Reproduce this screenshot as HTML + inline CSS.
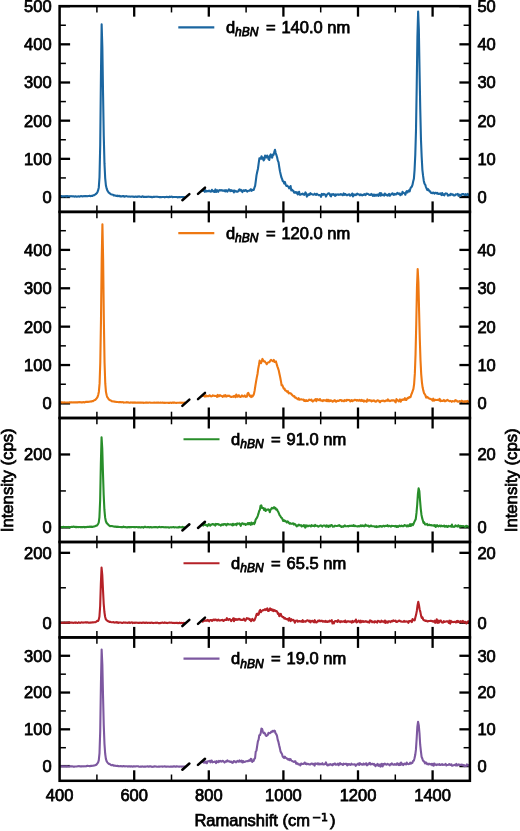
<!DOCTYPE html>
<html><head><meta charset="utf-8"><style>html,body{margin:0;padding:0;background:#fff;width:520px;height:831px;overflow:hidden}</style></head><body>
<svg width="520" height="831" viewBox="0 0 520 831" style="display:block">
<rect width="520" height="831" fill="#fff"/>
<clipPath id="c0"><rect x="59.6" y="6.15" width="410.30" height="205.75"/></clipPath>
<g stroke="#000"><line x1="96.90" y1="6.15" x2="96.90" y2="12.45" stroke-width="1.5"/><line x1="96.90" y1="211.90" x2="96.90" y2="205.60" stroke-width="1.5"/><line x1="134.20" y1="6.15" x2="134.20" y2="16.65" stroke-width="2.3"/><line x1="134.20" y1="211.90" x2="134.20" y2="201.40" stroke-width="2.3"/><line x1="171.50" y1="6.15" x2="171.50" y2="12.45" stroke-width="1.5"/><line x1="171.50" y1="211.90" x2="171.50" y2="205.60" stroke-width="1.5"/><line x1="208.80" y1="6.15" x2="208.80" y2="16.65" stroke-width="2.3"/><line x1="208.80" y1="211.90" x2="208.80" y2="201.40" stroke-width="2.3"/><line x1="246.10" y1="6.15" x2="246.10" y2="12.45" stroke-width="1.5"/><line x1="246.10" y1="211.90" x2="246.10" y2="205.60" stroke-width="1.5"/><line x1="283.40" y1="6.15" x2="283.40" y2="16.65" stroke-width="2.3"/><line x1="283.40" y1="211.90" x2="283.40" y2="201.40" stroke-width="2.3"/><line x1="320.70" y1="6.15" x2="320.70" y2="12.45" stroke-width="1.5"/><line x1="320.70" y1="211.90" x2="320.70" y2="205.60" stroke-width="1.5"/><line x1="358.00" y1="6.15" x2="358.00" y2="16.65" stroke-width="2.3"/><line x1="358.00" y1="211.90" x2="358.00" y2="201.40" stroke-width="2.3"/><line x1="395.30" y1="6.15" x2="395.30" y2="12.45" stroke-width="1.5"/><line x1="395.30" y1="211.90" x2="395.30" y2="205.60" stroke-width="1.5"/><line x1="432.60" y1="6.15" x2="432.60" y2="16.65" stroke-width="2.3"/><line x1="432.60" y1="211.90" x2="432.60" y2="201.40" stroke-width="2.3"/><line x1="59.60" y1="197.01" x2="70.10" y2="197.01" stroke-width="2.3"/><line x1="469.90" y1="197.01" x2="459.40" y2="197.01" stroke-width="2.3"/><line x1="59.60" y1="158.84" x2="70.10" y2="158.84" stroke-width="2.3"/><line x1="469.90" y1="158.84" x2="459.40" y2="158.84" stroke-width="2.3"/><line x1="59.60" y1="120.67" x2="70.10" y2="120.67" stroke-width="2.3"/><line x1="469.90" y1="120.67" x2="459.40" y2="120.67" stroke-width="2.3"/><line x1="59.60" y1="82.50" x2="70.10" y2="82.50" stroke-width="2.3"/><line x1="469.90" y1="82.50" x2="459.40" y2="82.50" stroke-width="2.3"/><line x1="59.60" y1="44.32" x2="70.10" y2="44.32" stroke-width="2.3"/><line x1="469.90" y1="44.32" x2="459.40" y2="44.32" stroke-width="2.3"/><line x1="59.60" y1="6.15" x2="70.10" y2="6.15" stroke-width="2.3"/><line x1="469.90" y1="6.15" x2="459.40" y2="6.15" stroke-width="2.3"/><line x1="59.60" y1="177.93" x2="65.90" y2="177.93" stroke-width="1.5"/><line x1="469.90" y1="177.93" x2="463.60" y2="177.93" stroke-width="1.5"/><line x1="59.60" y1="139.75" x2="65.90" y2="139.75" stroke-width="1.5"/><line x1="469.90" y1="139.75" x2="463.60" y2="139.75" stroke-width="1.5"/><line x1="59.60" y1="101.58" x2="65.90" y2="101.58" stroke-width="1.5"/><line x1="469.90" y1="101.58" x2="463.60" y2="101.58" stroke-width="1.5"/><line x1="59.60" y1="63.41" x2="65.90" y2="63.41" stroke-width="1.5"/><line x1="469.90" y1="63.41" x2="463.60" y2="63.41" stroke-width="1.5"/><line x1="59.60" y1="25.24" x2="65.90" y2="25.24" stroke-width="1.5"/><line x1="469.90" y1="25.24" x2="463.60" y2="25.24" stroke-width="1.5"/></g>
<polyline clip-path="url(#c0)" points="59.82,196.27 60.53,196.02 61.24,196.05 61.95,196.39 62.66,196.35 63.37,196.40 64.08,196.19 64.78,196.31 65.49,196.16 66.20,196.66 66.91,196.01 67.62,196.33 68.33,196.18 69.04,196.34 69.75,196.39 70.45,196.23 71.16,196.16 71.87,196.36 72.58,196.35 73.29,196.19 74.00,196.49 74.71,196.61 75.42,196.24 76.12,196.44 76.83,196.68 77.54,196.47 78.25,196.40 78.96,196.53 79.67,196.58 80.38,196.28 81.08,196.11 81.79,196.32 82.50,196.40 83.21,196.18 83.92,196.10 84.63,196.28 85.34,196.10 86.05,195.98 86.75,196.19 87.46,196.27 88.17,196.01 88.88,195.98 89.59,195.77 90.30,196.16 91.01,195.96 91.72,195.89 92.42,195.94 93.13,195.42 93.84,195.14 94.55,195.12 95.26,194.36 95.97,193.97 96.68,193.29 97.38,192.25 98.09,190.40 98.80,187.41 99.51,177.04 100.22,144.66 100.93,76.50 101.64,24.39 102.35,47.24 103.05,93.50 103.76,135.83 104.47,163.42 105.18,178.07 105.89,185.26 106.60,188.36 107.31,190.40 108.02,191.55 108.72,192.65 109.43,193.03 110.14,193.66 110.85,194.23 111.56,194.41 112.27,194.57 112.98,194.69 113.69,195.53 114.39,195.22 115.10,195.44 115.81,195.66 116.52,195.94 117.23,195.60 117.94,196.16 118.65,195.88 119.35,195.80 120.06,196.41 120.77,196.22 121.48,196.46 122.19,196.20 122.90,196.00 123.61,195.93 124.32,196.69 125.02,196.49 125.73,196.28 126.44,196.14 127.15,196.38 127.86,196.63 128.57,196.45 129.28,196.53 129.99,196.58 130.69,196.70 131.40,196.51 132.11,196.54 132.82,196.63 133.53,196.67 134.24,196.89 134.95,196.75 135.65,196.44 136.36,196.72 137.07,196.97 137.78,196.45 138.49,196.61 139.20,196.32 139.91,196.72 140.62,196.83 141.32,197.03 142.03,196.51 142.74,196.28 143.45,196.94 144.16,196.92 144.87,196.69 145.58,196.97 146.29,196.87 146.99,196.89 147.70,196.80 148.41,196.63 149.12,196.85 149.83,196.68 150.54,196.95 151.25,196.81 151.95,197.29 152.66,197.17 153.37,196.74 154.08,197.02 154.79,196.80 155.50,196.81 156.21,196.67 156.92,196.78 157.62,196.74 158.33,196.97 159.04,197.08 159.75,197.10 160.46,197.06 161.17,197.19 161.88,197.08 162.59,197.00 163.29,196.94 164.00,197.06 164.71,197.37 165.42,197.02 166.13,196.97 166.84,196.81 167.55,196.92 168.25,197.15 168.96,197.18 169.67,196.66 170.38,196.91 171.09,196.71 171.80,196.66 172.51,197.22 173.22,197.00 173.92,196.99 174.63,196.98 175.34,196.99 176.05,197.06 176.76,197.07 177.47,197.39 178.18,197.14 178.89,197.26 179.59,197.10 180.30,197.22 181.01,197.02 181.72,196.98 182.43,197.09 183.14,197.09 183.85,197.14 184.55,197.25 185.26,197.20" fill="none" stroke="#1b66a0" stroke-width="2.1" stroke-linejoin="round" stroke-linecap="butt"/>
<polyline clip-path="url(#c0)" points="201.97,191.27 202.68,190.59 203.39,190.87 204.10,190.43 204.81,191.89 205.52,190.19 206.23,191.45 206.94,191.42 207.64,191.00 208.35,191.28 209.06,190.62 209.77,191.28 210.48,191.65 211.19,191.47 211.90,189.82 212.60,190.78 213.31,191.70 214.02,190.80 214.73,191.99 215.44,189.43 216.15,191.95 216.86,190.42 217.57,190.36 218.27,191.88 218.98,190.54 219.69,190.00 220.40,190.40 221.11,190.55 221.82,190.02 222.53,190.62 223.24,190.48 223.94,190.83 224.65,190.24 225.36,191.44 226.07,190.11 226.78,191.10 227.49,191.54 228.20,190.42 228.90,189.40 229.61,189.95 230.32,191.08 231.03,190.15 231.74,191.02 232.45,190.76 233.16,190.59 233.87,192.43 234.57,190.51 235.28,191.44 235.99,191.18 236.70,191.77 237.41,191.79 238.12,191.35 238.83,189.99 239.54,189.34 240.24,190.63 240.95,189.77 241.66,190.80 242.37,192.06 243.08,190.47 243.79,190.24 244.50,190.91 245.20,190.34 245.91,190.13 246.62,191.22 247.33,191.69 248.04,190.72 248.75,190.71 249.46,190.81 250.17,189.78 250.87,189.21 251.58,190.85 252.29,189.99 253.00,189.80 253.71,189.94 254.42,187.70 255.13,185.78 255.84,180.54 256.54,175.11 257.25,171.81 257.96,168.76 258.67,163.32 259.38,158.35 260.09,158.19 260.80,158.75 261.50,156.37 262.21,158.78 262.92,157.70 263.63,160.48 264.34,159.49 265.05,155.58 265.76,156.18 266.47,157.48 267.17,155.57 267.88,156.50 268.59,159.41 269.30,159.88 270.01,155.79 270.72,154.34 271.43,156.59 272.14,157.72 272.84,154.68 273.55,154.93 274.26,152.14 274.97,149.70 275.68,153.09 276.39,154.97 277.10,157.30 277.80,160.60 278.51,162.15 279.22,166.93 279.93,171.14 280.64,174.25 281.35,177.30 282.06,178.89 282.77,181.17 283.47,181.21 284.18,183.55 284.89,182.00 285.60,184.31 286.31,185.89 287.02,185.50 287.73,186.32 288.44,186.61 289.14,188.33 289.85,187.82 290.56,186.02 291.27,190.37 291.98,189.62 292.69,190.62 293.40,190.74 294.11,192.77 294.81,192.77 295.52,192.04 296.23,192.92 296.94,192.15 297.65,194.44 298.36,193.84 299.07,191.79 299.77,194.64 300.48,194.79 301.19,194.17 301.90,194.21 302.61,193.58 303.32,194.16 304.03,194.88 304.74,194.18 305.44,192.37 306.15,193.46 306.86,196.59 307.57,194.62 308.28,195.22 308.99,194.12 309.70,194.77 310.41,193.20 311.11,193.98 311.82,194.01 312.53,194.55 313.24,194.73 313.95,194.44 314.66,193.71 315.37,194.29 316.07,194.97 316.78,193.73 317.49,194.56 318.20,194.76 318.91,195.31 319.62,195.14 320.33,195.19 321.04,196.84 321.74,193.93 322.45,194.28 323.16,194.88 323.87,193.92 324.58,194.38 325.29,194.43 326.00,196.61 326.71,194.90 327.41,194.31 328.12,193.49 328.83,193.32 329.54,193.63 330.25,195.61 330.96,196.40 331.67,194.29 332.37,194.71 333.08,193.99 333.79,194.82 334.50,194.56 335.21,195.88 335.92,194.39 336.63,195.07 337.34,194.47 338.04,194.38 338.75,194.82 339.46,194.49 340.17,194.75 340.88,194.16 341.59,194.35 342.30,195.16 343.01,195.19 343.71,193.41 344.42,194.82 345.13,193.98 345.84,194.44 346.55,195.17 347.26,195.31 347.97,194.65 348.67,194.55 349.38,194.27 350.09,195.71 350.80,195.20 351.51,194.81 352.22,193.52 352.93,196.54 353.64,194.41 354.34,195.15 355.05,194.41 355.76,195.12 356.47,194.46 357.18,193.55 357.89,194.47 358.60,194.41 359.31,194.45 360.01,195.31 360.72,194.32 361.43,194.89 362.14,195.35 362.85,194.76 363.56,194.91 364.27,194.16 364.98,194.76 365.68,195.13 366.39,193.61 367.10,193.97 367.81,193.75 368.52,194.26 369.23,194.80 369.94,195.03 370.64,194.92 371.35,193.98 372.06,194.62 372.77,195.83 373.48,194.73 374.19,195.78 374.90,194.56 375.61,195.60 376.31,195.65 377.02,194.58 377.73,194.73 378.44,195.93 379.15,194.09 379.86,193.00 380.57,195.77 381.28,193.25 381.98,195.15 382.69,194.99 383.40,194.74 384.11,195.70 384.82,193.59 385.53,194.20 386.24,195.13 386.94,194.76 387.65,195.69 388.36,194.78 389.07,193.78 389.78,195.79 390.49,194.79 391.20,194.32 391.91,193.61 392.61,193.35 393.32,194.70 394.03,194.89 394.74,193.94 395.45,194.53 396.16,194.44 396.87,193.34 397.58,192.82 398.28,193.85 398.99,194.13 399.70,193.48 400.41,195.28 401.12,193.76 401.83,194.45 402.54,191.70 403.24,192.84 403.95,193.12 404.66,193.20 405.37,194.76 406.08,192.05 406.79,191.05 407.50,192.49 408.21,190.98 408.91,190.42 409.62,191.49 410.33,188.75 411.04,187.33 411.75,186.74 412.46,184.98 413.17,181.48 413.88,178.81 414.58,169.82 415.29,154.61 416.00,130.18 416.71,86.87 417.42,37.26 418.13,11.43 418.84,29.09 419.54,70.44 420.25,108.76 420.96,139.23 421.67,156.74 422.38,169.78 423.09,175.90 423.80,180.96 424.51,183.64 425.21,184.56 425.92,186.86 426.63,188.54 427.34,190.15 428.05,189.08 428.76,190.03 429.47,191.36 430.18,191.36 430.88,192.70 431.59,193.00 432.30,193.13 433.01,192.46 433.72,192.70 434.43,193.67 435.14,192.70 435.85,192.80 436.55,193.39 437.26,192.84 437.97,193.95 438.68,193.90 439.39,193.54 440.10,194.00 440.81,193.43 441.51,195.06 442.22,193.07 442.93,194.80 443.64,194.38 444.35,195.35 445.06,193.88 445.77,193.40 446.48,193.59 447.18,193.80 447.89,195.66 448.60,195.10 449.31,194.88 450.02,195.26 450.73,193.72 451.44,194.46 452.15,194.64 452.85,194.26 453.56,195.38 454.27,195.37 454.98,195.36 455.69,194.33 456.40,194.46 457.11,194.29 457.81,193.92 458.52,195.80 459.23,195.20 459.94,194.67 460.65,195.83 461.36,195.21 462.07,194.04 462.78,193.99 463.48,194.02 464.19,194.81 464.90,195.02 465.61,194.04 466.32,195.16 467.03,194.62 467.74,193.88 468.45,195.18 469.15,195.37 469.86,194.92" fill="none" stroke="#1b66a0" stroke-width="2.1" stroke-linejoin="round" stroke-linecap="butt"/>
<line x1="182.36" y1="200.27" x2="189.36" y2="194.07" stroke="#000" stroke-width="2.5" stroke-linecap="round"/>
<line x1="198.00" y1="193.89" x2="205.00" y2="187.69" stroke="#000" stroke-width="2.5" stroke-linecap="round"/>
<rect x="59.6" y="6.15" width="410.30" height="205.75" fill="none" stroke="#000" stroke-width="2.5"/>
<g font-family='"Liberation Sans", Arial, Helvetica, sans-serif' font-size="16.5" fill="#000" stroke="#000" stroke-width="0.75"><text x="51.60" y="202.95" text-anchor="end">0</text><text x="477.40" y="202.95">0</text><text x="51.60" y="164.78" text-anchor="end">100</text><text x="477.40" y="164.78">10</text><text x="51.60" y="126.61" text-anchor="end">200</text><text x="477.40" y="126.61">20</text><text x="51.60" y="88.44" text-anchor="end">300</text><text x="477.40" y="88.44">30</text><text x="51.60" y="50.26" text-anchor="end">400</text><text x="477.40" y="50.26">40</text><text x="51.60" y="12.09" text-anchor="end">500</text><text x="477.40" y="12.09">50</text></g>
<line x1="178.3" y1="27.35" x2="214.3" y2="27.35" stroke="#1b66a0" stroke-width="2.1"/>
<text x="225.90" y="32.85" font-family='"Liberation Sans", Arial, Helvetica, sans-serif' font-size="16.5" fill="#000" stroke="#000" stroke-width="0.75">d<tspan font-style="italic" font-size="12" dy="3.6">hBN</tspan></text>
<text x="265.90" y="32.85" font-family='"Liberation Sans", Arial, Helvetica, sans-serif' font-size="16.5" fill="#000" stroke="#000" stroke-width="0.75">=</text>
<text x="281.40" y="32.85" font-family='"Liberation Sans", Arial, Helvetica, sans-serif' font-size="16.5" fill="#000" stroke="#000" stroke-width="0.75">140.0 nm</text>
<clipPath id="c1"><rect x="59.6" y="211.9" width="410.30" height="206.10"/></clipPath>
<g stroke="#000"><line x1="96.90" y1="211.90" x2="96.90" y2="218.20" stroke-width="1.5"/><line x1="96.90" y1="418.00" x2="96.90" y2="411.70" stroke-width="1.5"/><line x1="134.20" y1="211.90" x2="134.20" y2="222.40" stroke-width="2.3"/><line x1="134.20" y1="418.00" x2="134.20" y2="407.50" stroke-width="2.3"/><line x1="171.50" y1="211.90" x2="171.50" y2="218.20" stroke-width="1.5"/><line x1="171.50" y1="418.00" x2="171.50" y2="411.70" stroke-width="1.5"/><line x1="208.80" y1="211.90" x2="208.80" y2="222.40" stroke-width="2.3"/><line x1="208.80" y1="418.00" x2="208.80" y2="407.50" stroke-width="2.3"/><line x1="246.10" y1="211.90" x2="246.10" y2="218.20" stroke-width="1.5"/><line x1="246.10" y1="418.00" x2="246.10" y2="411.70" stroke-width="1.5"/><line x1="283.40" y1="211.90" x2="283.40" y2="222.40" stroke-width="2.3"/><line x1="283.40" y1="418.00" x2="283.40" y2="407.50" stroke-width="2.3"/><line x1="320.70" y1="211.90" x2="320.70" y2="218.20" stroke-width="1.5"/><line x1="320.70" y1="418.00" x2="320.70" y2="411.70" stroke-width="1.5"/><line x1="358.00" y1="211.90" x2="358.00" y2="222.40" stroke-width="2.3"/><line x1="358.00" y1="418.00" x2="358.00" y2="407.50" stroke-width="2.3"/><line x1="395.30" y1="211.90" x2="395.30" y2="218.20" stroke-width="1.5"/><line x1="395.30" y1="418.00" x2="395.30" y2="411.70" stroke-width="1.5"/><line x1="432.60" y1="211.90" x2="432.60" y2="222.40" stroke-width="2.3"/><line x1="432.60" y1="418.00" x2="432.60" y2="407.50" stroke-width="2.3"/><line x1="59.60" y1="403.42" x2="70.10" y2="403.42" stroke-width="2.3"/><line x1="469.90" y1="403.42" x2="459.40" y2="403.42" stroke-width="2.3"/><line x1="59.60" y1="365.04" x2="70.10" y2="365.04" stroke-width="2.3"/><line x1="469.90" y1="365.04" x2="459.40" y2="365.04" stroke-width="2.3"/><line x1="59.60" y1="326.66" x2="70.10" y2="326.66" stroke-width="2.3"/><line x1="469.90" y1="326.66" x2="459.40" y2="326.66" stroke-width="2.3"/><line x1="59.60" y1="288.28" x2="70.10" y2="288.28" stroke-width="2.3"/><line x1="469.90" y1="288.28" x2="459.40" y2="288.28" stroke-width="2.3"/><line x1="59.60" y1="249.90" x2="70.10" y2="249.90" stroke-width="2.3"/><line x1="469.90" y1="249.90" x2="459.40" y2="249.90" stroke-width="2.3"/><line x1="59.60" y1="384.23" x2="65.90" y2="384.23" stroke-width="1.5"/><line x1="469.90" y1="384.23" x2="463.60" y2="384.23" stroke-width="1.5"/><line x1="59.60" y1="345.85" x2="65.90" y2="345.85" stroke-width="1.5"/><line x1="469.90" y1="345.85" x2="463.60" y2="345.85" stroke-width="1.5"/><line x1="59.60" y1="307.47" x2="65.90" y2="307.47" stroke-width="1.5"/><line x1="469.90" y1="307.47" x2="463.60" y2="307.47" stroke-width="1.5"/><line x1="59.60" y1="269.09" x2="65.90" y2="269.09" stroke-width="1.5"/><line x1="469.90" y1="269.09" x2="463.60" y2="269.09" stroke-width="1.5"/><line x1="59.60" y1="230.71" x2="65.90" y2="230.71" stroke-width="1.5"/><line x1="469.90" y1="230.71" x2="463.60" y2="230.71" stroke-width="1.5"/></g>
<polyline clip-path="url(#c1)" points="59.90,402.35 60.61,402.36 61.32,402.40 62.02,402.35 62.73,402.60 63.44,402.51 64.15,402.39 64.86,402.51 65.57,402.56 66.28,402.54 66.99,402.51 67.69,402.42 68.40,402.51 69.11,402.36 69.82,402.19 70.53,402.40 71.24,402.23 71.95,402.34 72.65,402.50 73.36,402.39 74.07,402.47 74.78,402.26 75.49,402.47 76.20,402.18 76.91,402.25 77.62,402.54 78.32,402.21 79.03,402.10 79.74,402.36 80.45,402.14 81.16,402.44 81.87,402.19 82.58,402.38 83.29,402.11 83.99,402.34 84.70,402.41 85.41,402.02 86.12,401.76 86.83,402.05 87.54,401.83 88.25,401.85 88.96,401.82 89.66,401.63 90.37,401.40 91.08,401.61 91.79,401.26 92.50,401.10 93.21,401.08 93.92,400.45 94.62,400.05 95.33,399.92 96.04,398.99 96.75,398.32 97.46,397.13 98.17,395.05 98.88,391.70 99.59,383.38 100.29,362.26 101.00,319.13 101.71,258.77 102.42,224.31 103.13,259.06 103.84,319.16 104.55,362.56 105.26,383.42 105.96,391.87 106.67,395.27 107.38,397.28 108.09,398.17 108.80,399.34 109.51,399.86 110.22,400.34 110.92,400.54 111.63,401.13 112.34,401.20 113.05,401.40 113.76,401.47 114.47,401.60 115.18,401.82 115.89,401.83 116.59,401.98 117.30,401.95 118.01,402.07 118.72,402.19 119.43,402.16 120.14,402.16 120.85,401.98 121.56,402.33 122.26,402.26 122.97,402.16 123.68,402.59 124.39,402.57 125.10,402.53 125.81,402.42 126.52,402.15 127.22,402.40 127.93,402.32 128.64,402.50 129.35,402.77 130.06,402.76 130.77,402.39 131.48,402.50 132.19,402.68 132.89,402.41 133.60,402.73 134.31,402.43 135.02,402.40 135.73,402.66 136.44,402.71 137.15,402.49 137.86,402.72 138.56,402.50 139.27,402.74 139.98,402.52 140.69,402.61 141.40,402.67 142.11,402.73 142.82,402.61 143.52,402.86 144.23,402.68 144.94,402.69 145.65,402.57 146.36,402.80 147.07,402.46 147.78,402.70 148.49,402.80 149.19,402.51 149.90,402.49 150.61,402.70 151.32,402.79 152.03,402.69 152.74,402.77 153.45,402.73 154.16,402.52 154.86,402.66 155.57,402.69 156.28,402.67 156.99,402.72 157.70,402.62 158.41,402.62 159.12,402.76 159.83,402.71 160.53,402.45 161.24,402.68 161.95,402.76 162.66,402.50 163.37,402.74 164.08,402.87 164.79,402.67 165.49,402.85 166.20,402.81 166.91,402.72 167.62,402.77 168.33,402.85 169.04,402.82 169.75,402.83 170.46,402.63 171.16,402.85 171.87,402.84 172.58,402.54 173.29,402.84 174.00,402.61 174.71,402.63 175.42,402.80 176.13,402.95 176.83,402.74 177.54,402.71 178.25,402.68 178.96,402.79 179.67,402.66 180.38,402.64 181.09,402.92 181.79,402.64 182.50,402.79 183.21,402.88 183.92,402.85 184.63,402.60 185.34,402.70" fill="none" stroke="#ee7812" stroke-width="2.1" stroke-linejoin="round" stroke-linecap="butt"/>
<polyline clip-path="url(#c1)" points="201.53,396.76 202.24,395.69 202.94,395.83 203.65,395.85 204.36,396.05 205.07,396.60 205.78,395.27 206.49,396.32 207.20,396.00 207.90,396.14 208.61,396.21 209.32,395.37 210.03,395.59 210.74,396.20 211.45,396.36 212.16,396.09 212.87,395.27 213.57,395.76 214.28,395.71 214.99,396.04 215.70,396.00 216.41,395.74 217.12,396.93 217.83,394.94 218.54,396.33 219.24,396.21 219.95,395.12 220.66,395.77 221.37,395.88 222.08,396.24 222.79,396.81 223.50,395.81 224.20,395.24 224.91,396.45 225.62,395.15 226.33,396.59 227.04,396.37 227.75,395.66 228.46,395.96 229.17,395.57 229.87,396.40 230.58,396.57 231.29,397.06 232.00,396.68 232.71,396.62 233.42,396.82 234.13,395.83 234.84,396.40 235.54,397.17 236.25,394.60 236.96,396.51 237.67,396.76 238.38,395.33 239.09,395.38 239.80,396.72 240.50,396.91 241.21,396.64 241.92,395.42 242.63,396.26 243.34,396.55 244.05,396.11 244.76,395.41 245.47,396.90 246.17,396.33 246.88,396.63 247.59,393.48 248.30,392.90 249.01,394.50 249.72,396.19 250.43,395.64 251.14,397.14 251.84,395.68 252.55,396.52 253.26,395.49 253.97,393.87 254.68,390.41 255.39,385.63 256.10,381.33 256.81,377.40 257.51,374.01 258.22,368.68 258.93,365.04 259.64,360.64 260.35,361.95 261.06,363.07 261.77,361.11 262.47,358.89 263.18,360.44 263.89,361.48 264.60,361.22 265.31,362.17 266.02,362.88 266.73,364.22 267.44,363.11 268.14,362.34 268.85,362.31 269.56,362.12 270.27,360.64 270.98,359.83 271.69,360.40 272.40,360.85 273.11,361.18 273.81,359.97 274.52,362.03 275.23,361.78 275.94,361.45 276.65,363.96 277.36,366.37 278.07,368.37 278.77,370.50 279.48,374.01 280.19,377.22 280.90,380.93 281.61,385.29 282.32,385.05 283.03,386.79 283.74,388.58 284.44,388.49 285.15,390.33 285.86,390.71 286.57,390.69 287.28,391.85 287.99,391.26 288.70,393.36 289.41,392.94 290.11,393.36 290.82,393.42 291.53,394.24 292.24,395.15 292.95,395.74 293.66,396.33 294.37,396.14 295.07,397.68 295.78,397.51 296.49,398.36 297.20,398.68 297.91,399.35 298.62,398.07 299.33,399.78 300.04,399.36 300.74,399.45 301.45,399.36 302.16,399.55 302.87,399.67 303.58,399.45 304.29,400.98 305.00,400.21 305.71,401.03 306.41,400.19 307.12,401.01 307.83,400.89 308.54,400.37 309.25,399.54 309.96,400.01 310.67,400.18 311.37,399.55 312.08,400.90 312.79,401.57 313.50,400.61 314.21,400.53 314.92,399.67 315.63,399.15 316.34,401.15 317.04,398.97 317.75,399.50 318.46,399.92 319.17,400.19 319.88,399.01 320.59,400.37 321.30,400.69 322.01,400.34 322.71,401.22 323.42,400.16 324.13,400.50 324.84,400.25 325.55,400.24 326.26,401.06 326.97,399.70 327.68,401.04 328.38,399.95 329.09,401.39 329.80,400.26 330.51,400.95 331.22,400.46 331.93,400.86 332.64,401.75 333.34,401.14 334.05,400.46 334.76,400.14 335.47,401.35 336.18,401.74 336.89,401.02 337.60,400.64 338.31,400.89 339.01,401.00 339.72,400.04 340.43,399.98 341.14,400.11 341.85,401.09 342.56,400.51 343.27,400.67 343.98,401.38 344.68,400.05 345.39,400.52 346.10,400.85 346.81,399.76 347.52,400.14 348.23,400.09 348.94,399.90 349.64,400.18 350.35,401.32 351.06,400.82 351.77,400.02 352.48,401.05 353.19,400.59 353.90,400.38 354.61,399.79 355.31,399.87 356.02,400.11 356.73,400.73 357.44,400.10 358.15,400.33 358.86,400.73 359.57,399.86 360.28,400.36 360.98,401.08 361.69,399.92 362.40,400.80 363.11,400.31 363.82,401.54 364.53,400.67 365.24,401.21 365.94,401.23 366.65,401.77 367.36,399.44 368.07,400.76 368.78,400.54 369.49,400.04 370.20,400.75 370.91,400.39 371.61,401.47 372.32,400.57 373.03,400.92 373.74,400.40 374.45,400.58 375.16,401.49 375.87,401.75 376.58,401.27 377.28,400.26 377.99,400.44 378.70,400.46 379.41,401.85 380.12,402.23 380.83,401.04 381.54,400.87 382.24,401.03 382.95,400.47 383.66,400.77 384.37,401.35 385.08,401.17 385.79,400.58 386.50,400.61 387.21,400.69 387.91,399.33 388.62,400.78 389.33,400.55 390.04,401.18 390.75,400.80 391.46,400.28 392.17,400.24 392.88,400.64 393.58,400.30 394.29,400.48 395.00,401.57 395.71,402.35 396.42,399.10 397.13,399.92 397.84,400.39 398.55,401.32 399.25,401.00 399.96,399.43 400.67,401.76 401.38,400.27 402.09,399.50 402.80,399.83 403.51,399.37 404.21,399.75 404.92,398.15 405.63,399.94 406.34,399.93 407.05,398.73 407.76,397.76 408.47,398.24 409.18,397.13 409.88,397.44 410.59,397.03 411.30,394.51 412.01,392.99 412.72,390.97 413.43,388.92 414.14,383.78 414.85,373.41 415.55,354.09 416.26,323.79 416.97,287.48 417.68,269.16 418.39,281.97 419.10,311.26 419.81,339.42 420.51,360.53 421.22,374.41 421.93,382.33 422.64,387.60 423.35,390.65 424.06,393.25 424.77,394.12 425.48,395.54 426.18,397.56 426.89,396.75 427.60,397.74 428.31,397.51 429.02,398.51 429.73,398.79 430.44,398.88 431.15,399.23 431.85,399.68 432.56,400.62 433.27,398.68 433.98,400.78 434.69,400.18 435.40,399.71 436.11,399.96 436.81,399.94 437.52,399.90 438.23,399.68 438.94,400.30 439.65,398.85 440.36,401.16 441.07,400.49 441.78,400.87 442.48,401.02 443.19,400.58 443.90,399.94 444.61,401.22 445.32,401.25 446.03,400.45 446.74,400.58 447.45,399.80 448.15,400.35 448.86,400.84 449.57,401.18 450.28,400.89 450.99,401.13 451.70,401.84 452.41,401.06 453.11,401.19 453.82,401.23 454.53,401.36 455.24,400.16 455.95,400.75 456.66,400.62 457.37,401.52 458.08,401.78 458.78,401.36 459.49,401.07 460.20,401.42 460.91,401.34 461.62,400.69 462.33,401.09 463.04,401.83 463.75,401.53 464.45,401.67 465.16,401.19 465.87,401.98 466.58,401.42 467.29,400.93 468.00,401.32 468.71,401.87 469.42,401.71" fill="none" stroke="#ee7812" stroke-width="2.1" stroke-linejoin="round" stroke-linecap="butt"/>
<line x1="182.36" y1="405.86" x2="189.36" y2="399.66" stroke="#000" stroke-width="2.5" stroke-linecap="round"/>
<line x1="198.00" y1="399.13" x2="205.00" y2="392.93" stroke="#000" stroke-width="2.5" stroke-linecap="round"/>
<rect x="59.6" y="211.9" width="410.30" height="206.10" fill="none" stroke="#000" stroke-width="2.5"/>
<g font-family='"Liberation Sans", Arial, Helvetica, sans-serif' font-size="16.5" fill="#000" stroke="#000" stroke-width="0.75"><text x="51.60" y="409.36" text-anchor="end">0</text><text x="477.40" y="409.36">0</text><text x="51.60" y="370.98" text-anchor="end">100</text><text x="477.40" y="370.98">10</text><text x="51.60" y="332.60" text-anchor="end">200</text><text x="477.40" y="332.60">20</text><text x="51.60" y="294.22" text-anchor="end">300</text><text x="477.40" y="294.22">30</text><text x="51.60" y="255.84" text-anchor="end">400</text><text x="477.40" y="255.84">40</text></g>
<line x1="178.3" y1="233.10" x2="214.3" y2="233.10" stroke="#ee7812" stroke-width="2.1"/>
<text x="225.90" y="238.60" font-family='"Liberation Sans", Arial, Helvetica, sans-serif' font-size="16.5" fill="#000" stroke="#000" stroke-width="0.75">d<tspan font-style="italic" font-size="12" dy="3.6">hBN</tspan></text>
<text x="265.90" y="238.60" font-family='"Liberation Sans", Arial, Helvetica, sans-serif' font-size="16.5" fill="#000" stroke="#000" stroke-width="0.75">=</text>
<text x="281.40" y="238.60" font-family='"Liberation Sans", Arial, Helvetica, sans-serif' font-size="16.5" fill="#000" stroke="#000" stroke-width="0.75">120.0 nm</text>
<clipPath id="c2"><rect x="59.6" y="418.0" width="410.30" height="124.00"/></clipPath>
<g stroke="#000"><line x1="96.90" y1="418.00" x2="96.90" y2="424.30" stroke-width="1.5"/><line x1="96.90" y1="542.00" x2="96.90" y2="535.70" stroke-width="1.5"/><line x1="134.20" y1="418.00" x2="134.20" y2="428.50" stroke-width="2.3"/><line x1="134.20" y1="542.00" x2="134.20" y2="531.50" stroke-width="2.3"/><line x1="171.50" y1="418.00" x2="171.50" y2="424.30" stroke-width="1.5"/><line x1="171.50" y1="542.00" x2="171.50" y2="535.70" stroke-width="1.5"/><line x1="208.80" y1="418.00" x2="208.80" y2="428.50" stroke-width="2.3"/><line x1="208.80" y1="542.00" x2="208.80" y2="531.50" stroke-width="2.3"/><line x1="246.10" y1="418.00" x2="246.10" y2="424.30" stroke-width="1.5"/><line x1="246.10" y1="542.00" x2="246.10" y2="535.70" stroke-width="1.5"/><line x1="283.40" y1="418.00" x2="283.40" y2="428.50" stroke-width="2.3"/><line x1="283.40" y1="542.00" x2="283.40" y2="531.50" stroke-width="2.3"/><line x1="320.70" y1="418.00" x2="320.70" y2="424.30" stroke-width="1.5"/><line x1="320.70" y1="542.00" x2="320.70" y2="535.70" stroke-width="1.5"/><line x1="358.00" y1="418.00" x2="358.00" y2="428.50" stroke-width="2.3"/><line x1="358.00" y1="542.00" x2="358.00" y2="531.50" stroke-width="2.3"/><line x1="395.30" y1="418.00" x2="395.30" y2="424.30" stroke-width="1.5"/><line x1="395.30" y1="542.00" x2="395.30" y2="535.70" stroke-width="1.5"/><line x1="432.60" y1="418.00" x2="432.60" y2="428.50" stroke-width="2.3"/><line x1="432.60" y1="542.00" x2="432.60" y2="531.50" stroke-width="2.3"/><line x1="59.60" y1="527.41" x2="70.10" y2="527.41" stroke-width="2.3"/><line x1="469.90" y1="527.41" x2="459.40" y2="527.41" stroke-width="2.3"/><line x1="59.60" y1="454.47" x2="70.10" y2="454.47" stroke-width="2.3"/><line x1="469.90" y1="454.47" x2="459.40" y2="454.47" stroke-width="2.3"/><line x1="59.60" y1="490.94" x2="65.90" y2="490.94" stroke-width="1.5"/><line x1="469.90" y1="490.94" x2="463.60" y2="490.94" stroke-width="1.5"/></g>
<polyline clip-path="url(#c2)" points="59.75,527.07 60.46,527.01 61.17,526.94 61.88,527.12 62.58,527.34 63.29,526.84 64.00,527.04 64.71,527.02 65.42,527.04 66.13,527.28 66.84,527.15 67.54,527.05 68.25,526.91 68.96,527.08 69.67,527.66 70.38,527.14 71.09,527.03 71.80,526.85 72.51,526.96 73.21,526.63 73.92,526.83 74.63,526.84 75.34,526.91 76.05,527.33 76.76,526.92 77.47,526.96 78.18,527.16 78.88,526.96 79.59,526.98 80.30,527.14 81.01,527.07 81.72,527.09 82.43,526.99 83.14,527.11 83.84,526.92 84.55,527.36 85.26,527.05 85.97,527.29 86.68,527.06 87.39,526.85 88.10,526.92 88.81,526.92 89.51,526.86 90.22,526.55 90.93,526.99 91.64,526.58 92.35,526.95 93.06,526.67 93.77,526.45 94.48,526.49 95.18,526.11 95.89,525.75 96.60,525.73 97.31,524.96 98.02,524.10 98.73,522.59 99.44,517.04 100.15,500.20 100.85,463.91 101.56,437.26 102.27,448.68 102.98,473.39 103.69,494.97 104.40,509.70 105.11,517.42 105.81,521.00 106.52,522.74 107.23,523.65 107.94,524.25 108.65,525.10 109.36,525.62 110.07,526.16 110.78,525.96 111.48,525.93 112.19,526.14 112.90,526.31 113.61,526.49 114.32,526.63 115.03,526.63 115.74,526.57 116.45,527.01 117.15,526.61 117.86,527.04 118.57,526.84 119.28,526.96 119.99,526.94 120.70,527.09 121.41,527.13 122.11,526.98 122.82,527.16 123.53,526.53 124.24,527.07 124.95,527.13 125.66,527.12 126.37,527.23 127.08,527.49 127.78,527.10 128.49,527.01 129.20,527.35 129.91,527.08 130.62,527.31 131.33,527.10 132.04,527.04 132.75,527.02 133.45,527.04 134.16,527.25 134.87,526.97 135.58,527.21 136.29,527.07 137.00,527.01 137.71,527.20 138.41,527.39 139.12,527.04 139.83,527.36 140.54,527.33 141.25,527.37 141.96,527.02 142.67,527.20 143.38,527.59 144.08,527.05 144.79,526.81 145.50,526.86 146.21,527.29 146.92,527.18 147.63,527.10 148.34,527.03 149.05,527.19 149.75,527.40 150.46,527.07 151.17,527.10 151.88,527.45 152.59,527.28 153.30,527.17 154.01,527.22 154.71,527.12 155.42,527.08 156.13,527.12 156.84,527.25 157.55,527.47 158.26,527.12 158.97,526.98 159.68,526.87 160.38,527.24 161.09,527.24 161.80,526.97 162.51,526.98 163.22,527.18 163.93,527.11 164.64,527.38 165.35,527.14 166.05,527.40 166.76,527.28 167.47,527.27 168.18,527.34 168.89,527.64 169.60,527.41 170.31,527.20 171.02,527.27 171.72,527.33 172.43,527.18 173.14,527.14 173.85,527.11 174.56,527.41 175.27,527.26 175.98,527.33 176.68,527.43 177.39,527.55 178.10,527.29 178.81,527.44 179.52,526.88 180.23,527.30 180.94,527.32 181.65,527.35 182.35,526.94 183.06,527.46 183.77,527.31 184.48,527.43 185.19,527.31" fill="none" stroke="#288e2a" stroke-width="2.1" stroke-linejoin="round" stroke-linecap="butt"/>
<polyline clip-path="url(#c2)" points="201.75,524.88 202.46,524.25 203.17,525.61 203.88,524.83 204.59,523.92 205.29,525.07 206.00,524.87 206.71,525.24 207.42,526.18 208.13,524.79 208.84,524.07 209.55,524.96 210.25,525.70 210.96,524.52 211.67,524.61 212.38,524.09 213.09,524.13 213.80,524.76 214.51,524.38 215.22,525.57 215.92,523.95 216.63,524.45 217.34,523.94 218.05,523.94 218.76,524.67 219.47,524.58 220.18,524.96 220.89,525.60 221.59,524.52 222.30,524.35 223.01,525.02 223.72,524.01 224.43,524.34 225.14,524.13 225.85,524.79 226.55,525.32 227.26,523.90 227.97,523.98 228.68,524.36 229.39,524.52 230.10,524.43 230.81,524.33 231.52,524.52 232.22,525.34 232.93,523.78 233.64,525.03 234.35,524.37 235.06,524.34 235.77,524.01 236.48,525.03 237.19,523.46 237.89,523.75 238.60,523.67 239.31,523.38 240.02,524.51 240.73,525.79 241.44,523.85 242.15,523.29 242.85,523.36 243.56,524.29 244.27,524.02 244.98,523.80 245.69,524.95 246.40,524.30 247.11,524.27 247.82,523.02 248.52,524.25 249.23,522.99 249.94,523.85 250.65,524.77 251.36,522.59 252.07,524.35 252.78,523.45 253.49,522.83 254.19,524.06 254.90,522.76 255.61,519.71 256.32,518.57 257.03,517.65 257.74,515.85 258.45,513.69 259.15,511.06 259.86,509.82 260.57,505.78 261.28,505.26 261.99,507.86 262.70,507.98 263.41,508.07 264.12,510.03 264.82,508.47 265.53,510.95 266.24,510.18 266.95,509.53 267.66,509.74 268.37,509.42 269.08,509.81 269.79,512.17 270.49,509.75 271.20,508.82 271.91,507.83 272.62,508.46 273.33,508.31 274.04,507.21 274.75,508.33 275.46,507.95 276.16,509.57 276.87,509.26 277.58,510.70 278.29,511.95 279.00,513.67 279.71,515.32 280.42,516.14 281.12,517.53 281.83,517.90 282.54,519.28 283.25,521.03 283.96,520.20 284.67,521.11 285.38,520.82 286.09,521.63 286.79,522.46 287.50,521.28 288.21,521.86 288.92,523.08 289.63,523.72 290.34,523.20 291.05,523.84 291.76,523.67 292.46,523.42 293.17,523.25 293.88,524.55 294.59,523.90 295.30,524.31 296.01,525.48 296.72,526.45 297.42,525.37 298.13,525.61 298.84,524.66 299.55,525.17 300.26,525.52 300.97,525.03 301.68,526.53 302.39,525.85 303.09,526.11 303.80,525.00 304.51,525.65 305.22,527.63 305.93,525.21 306.64,526.46 307.35,525.54 308.06,526.23 308.76,525.83 309.47,525.62 310.18,525.86 310.89,526.49 311.60,525.20 312.31,525.75 313.02,525.98 313.72,525.59 314.43,526.27 315.14,524.94 315.85,525.85 316.56,525.78 317.27,525.79 317.98,526.48 318.69,526.62 319.39,525.86 320.10,525.79 320.81,525.25 321.52,525.74 322.23,526.58 322.94,525.70 323.65,525.54 324.36,525.44 325.06,525.81 325.77,526.66 326.48,525.36 327.19,526.40 327.90,525.68 328.61,526.86 329.32,525.58 330.02,526.43 330.73,525.41 331.44,525.04 332.15,525.37 332.86,526.65 333.57,526.53 334.28,526.49 334.99,525.65 335.69,525.82 336.40,525.93 337.11,525.85 337.82,525.70 338.53,525.66 339.24,525.10 339.95,526.05 340.66,525.91 341.36,527.04 342.07,526.75 342.78,526.41 343.49,526.68 344.20,525.91 344.91,525.46 345.62,526.27 346.33,526.30 347.03,526.32 347.74,525.97 348.45,526.34 349.16,525.81 349.87,525.88 350.58,525.86 351.29,525.63 351.99,526.03 352.70,525.97 353.41,525.09 354.12,526.08 354.83,525.62 355.54,526.03 356.25,526.31 356.96,526.31 357.66,526.51 358.37,526.06 359.08,526.39 359.79,526.30 360.50,525.40 361.21,526.14 361.92,525.44 362.63,525.92 363.33,525.60 364.04,526.40 364.75,525.99 365.46,524.63 366.17,525.62 366.88,525.53 367.59,525.95 368.29,525.61 369.00,526.71 369.71,526.54 370.42,525.84 371.13,525.63 371.84,526.30 372.55,526.18 373.26,526.28 373.96,526.18 374.67,526.74 375.38,526.87 376.09,526.13 376.80,527.04 377.51,526.62 378.22,526.45 378.93,526.66 379.63,525.96 380.34,526.33 381.05,526.13 381.76,526.64 382.47,526.49 383.18,525.81 383.89,525.89 384.59,526.34 385.30,525.89 386.01,525.98 386.72,526.00 387.43,525.21 388.14,526.30 388.85,525.85 389.56,525.85 390.26,526.20 390.97,526.71 391.68,525.69 392.39,525.92 393.10,526.03 393.81,526.05 394.52,526.04 395.23,526.54 395.93,525.88 396.64,527.02 397.35,526.04 398.06,526.84 398.77,526.20 399.48,525.60 400.19,526.13 400.89,526.23 401.60,525.67 402.31,526.08 403.02,526.13 403.73,526.10 404.44,525.02 405.15,525.45 405.86,525.51 406.56,526.37 407.27,525.33 407.98,526.30 408.69,525.24 409.40,526.01 410.11,524.19 410.82,526.01 411.53,524.19 412.23,524.12 412.94,525.12 413.65,523.70 414.36,521.86 415.07,520.42 415.78,518.96 416.49,512.92 417.20,504.68 417.90,494.11 418.61,488.30 419.32,490.91 420.03,500.26 420.74,508.59 421.45,514.71 422.16,518.14 422.86,520.54 423.57,522.87 424.28,522.46 424.99,524.45 425.70,524.44 426.41,524.37 427.12,523.93 427.83,525.25 428.53,525.07 429.24,524.64 429.95,525.12 430.66,524.94 431.37,525.06 432.08,525.55 432.79,525.41 433.50,525.30 434.20,525.86 434.91,525.01 435.62,527.00 436.33,526.45 437.04,525.18 437.75,525.76 438.46,526.37 439.16,525.83 439.87,525.46 440.58,526.38 441.29,525.67 442.00,526.17 442.71,526.17 443.42,526.16 444.13,525.53 444.83,526.76 445.54,526.36 446.25,525.80 446.96,526.84 447.67,527.04 448.38,525.88 449.09,526.19 449.80,526.28 450.50,526.13 451.21,526.74 451.92,524.62 452.63,526.76 453.34,526.47 454.05,527.01 454.76,526.47 455.46,525.41 456.17,526.24 456.88,525.93 457.59,526.52 458.30,525.27 459.01,526.17 459.72,526.95 460.43,525.85 461.13,526.48 461.84,525.95 462.55,526.21 463.26,526.14 463.97,526.21 464.68,526.79 465.39,527.12 466.10,525.76 466.80,526.37 467.51,526.15 468.22,526.56 468.93,527.41 469.64,527.01" fill="none" stroke="#288e2a" stroke-width="2.1" stroke-linejoin="round" stroke-linecap="butt"/>
<line x1="182.36" y1="530.48" x2="189.36" y2="524.28" stroke="#000" stroke-width="2.5" stroke-linecap="round"/>
<line x1="198.00" y1="527.99" x2="205.00" y2="521.79" stroke="#000" stroke-width="2.5" stroke-linecap="round"/>
<rect x="59.6" y="418.0" width="410.30" height="124.00" fill="none" stroke="#000" stroke-width="2.5"/>
<g font-family='"Liberation Sans", Arial, Helvetica, sans-serif' font-size="16.5" fill="#000" stroke="#000" stroke-width="0.75"><text x="51.60" y="533.35" text-anchor="end">0</text><text x="477.40" y="533.35">0</text><text x="51.60" y="460.41" text-anchor="end">200</text><text x="477.40" y="460.41">20</text></g>
<line x1="183.5" y1="439.20" x2="219.5" y2="439.20" stroke="#288e2a" stroke-width="2.1"/>
<text x="231.10" y="444.70" font-family='"Liberation Sans", Arial, Helvetica, sans-serif' font-size="16.5" fill="#000" stroke="#000" stroke-width="0.75">d<tspan font-style="italic" font-size="12" dy="3.6">hBN</tspan></text>
<text x="271.10" y="444.70" font-family='"Liberation Sans", Arial, Helvetica, sans-serif' font-size="16.5" fill="#000" stroke="#000" stroke-width="0.75">=</text>
<text x="286.60" y="444.70" font-family='"Liberation Sans", Arial, Helvetica, sans-serif' font-size="16.5" fill="#000" stroke="#000" stroke-width="0.75">91.0 nm</text>
<clipPath id="c3"><rect x="59.6" y="542.0" width="410.30" height="95.40"/></clipPath>
<g stroke="#000"><line x1="96.90" y1="542.00" x2="96.90" y2="548.30" stroke-width="1.5"/><line x1="96.90" y1="637.40" x2="96.90" y2="631.10" stroke-width="1.5"/><line x1="134.20" y1="542.00" x2="134.20" y2="552.50" stroke-width="2.3"/><line x1="134.20" y1="637.40" x2="134.20" y2="626.90" stroke-width="2.3"/><line x1="171.50" y1="542.00" x2="171.50" y2="548.30" stroke-width="1.5"/><line x1="171.50" y1="637.40" x2="171.50" y2="631.10" stroke-width="1.5"/><line x1="208.80" y1="542.00" x2="208.80" y2="552.50" stroke-width="2.3"/><line x1="208.80" y1="637.40" x2="208.80" y2="626.90" stroke-width="2.3"/><line x1="246.10" y1="542.00" x2="246.10" y2="548.30" stroke-width="1.5"/><line x1="246.10" y1="637.40" x2="246.10" y2="631.10" stroke-width="1.5"/><line x1="283.40" y1="542.00" x2="283.40" y2="552.50" stroke-width="2.3"/><line x1="283.40" y1="637.40" x2="283.40" y2="626.90" stroke-width="2.3"/><line x1="320.70" y1="542.00" x2="320.70" y2="548.30" stroke-width="1.5"/><line x1="320.70" y1="637.40" x2="320.70" y2="631.10" stroke-width="1.5"/><line x1="358.00" y1="542.00" x2="358.00" y2="552.50" stroke-width="2.3"/><line x1="358.00" y1="637.40" x2="358.00" y2="626.90" stroke-width="2.3"/><line x1="395.30" y1="542.00" x2="395.30" y2="548.30" stroke-width="1.5"/><line x1="395.30" y1="637.40" x2="395.30" y2="631.10" stroke-width="1.5"/><line x1="432.60" y1="542.00" x2="432.60" y2="552.50" stroke-width="2.3"/><line x1="432.60" y1="637.40" x2="432.60" y2="626.90" stroke-width="2.3"/><line x1="59.60" y1="622.72" x2="70.10" y2="622.72" stroke-width="2.3"/><line x1="469.90" y1="622.72" x2="459.40" y2="622.72" stroke-width="2.3"/><line x1="59.60" y1="552.83" x2="70.10" y2="552.83" stroke-width="2.3"/><line x1="469.90" y1="552.83" x2="459.40" y2="552.83" stroke-width="2.3"/><line x1="59.60" y1="587.78" x2="65.90" y2="587.78" stroke-width="1.5"/><line x1="469.90" y1="587.78" x2="463.60" y2="587.78" stroke-width="1.5"/></g>
<polyline clip-path="url(#c3)" points="59.75,622.37 60.46,622.75 61.17,622.68 61.88,622.87 62.58,622.71 63.29,622.69 64.00,622.66 64.71,622.63 65.42,622.73 66.13,622.72 66.84,622.63 67.54,622.57 68.25,622.65 68.96,622.32 69.67,622.59 70.38,622.60 71.09,622.74 71.80,622.45 72.51,622.81 73.21,622.91 73.92,622.80 74.63,622.52 75.34,622.83 76.05,622.40 76.76,622.63 77.47,622.89 78.18,622.66 78.88,622.31 79.59,622.77 80.30,622.85 81.01,622.53 81.72,622.39 82.43,622.43 83.14,622.66 83.84,622.57 84.55,622.54 85.26,622.38 85.97,622.21 86.68,622.59 87.39,622.34 88.10,622.61 88.81,622.43 89.51,622.68 90.22,622.63 90.93,622.40 91.64,622.60 92.35,622.24 93.06,622.44 93.77,622.27 94.48,622.21 95.18,622.14 95.89,621.90 96.60,621.51 97.31,620.81 98.02,620.99 98.73,619.64 99.44,616.51 100.15,606.26 100.85,584.04 101.56,567.66 102.27,574.81 102.98,589.48 103.69,603.56 104.40,612.03 105.11,616.72 105.81,619.20 106.52,620.02 107.23,620.66 107.94,621.19 108.65,621.21 109.36,621.87 110.07,621.70 110.78,621.99 111.48,622.24 112.19,622.17 112.90,622.28 113.61,622.13 114.32,622.59 115.03,622.41 115.74,622.49 116.45,622.17 117.15,622.67 117.86,622.31 118.57,622.83 119.28,622.48 119.99,622.58 120.70,622.51 121.41,622.71 122.11,622.95 122.82,622.89 123.53,622.40 124.24,622.60 124.95,622.80 125.66,622.50 126.37,622.80 127.08,622.80 127.78,622.89 128.49,622.48 129.20,622.35 129.91,622.87 130.62,622.66 131.33,622.54 132.04,622.35 132.75,623.14 133.45,622.70 134.16,622.62 134.87,623.00 135.58,622.67 136.29,622.71 137.00,622.62 137.71,622.86 138.41,622.68 139.12,622.87 139.83,622.66 140.54,622.74 141.25,622.84 141.96,623.02 142.67,622.49 143.38,622.59 144.08,622.63 144.79,622.90 145.50,622.85 146.21,622.50 146.92,622.66 147.63,622.95 148.34,622.79 149.05,622.78 149.75,622.84 150.46,622.97 151.17,622.59 151.88,622.71 152.59,622.85 153.30,623.09 154.01,622.92 154.71,622.82 155.42,622.67 156.13,622.89 156.84,622.63 157.55,622.80 158.26,622.96 158.97,623.32 159.68,623.04 160.38,623.10 161.09,622.86 161.80,622.78 162.51,622.60 163.22,622.85 163.93,623.05 164.64,622.44 165.35,622.79 166.05,622.90 166.76,622.90 167.47,623.09 168.18,622.74 168.89,622.79 169.60,622.58 170.31,622.67 171.02,622.71 171.72,622.64 172.43,622.92 173.14,622.95 173.85,622.88 174.56,623.09 175.27,622.90 175.98,622.93 176.68,622.76 177.39,622.88 178.10,623.21 178.81,622.88 179.52,622.64 180.23,623.21 180.94,623.02 181.65,622.88 182.35,623.12 183.06,622.99 183.77,622.88 184.48,623.12 185.19,622.84" fill="none" stroke="#b52127" stroke-width="2.1" stroke-linejoin="round" stroke-linecap="butt"/>
<polyline clip-path="url(#c3)" points="202.09,620.53 202.79,621.68 203.50,620.76 204.21,620.00 204.92,620.85 205.63,620.40 206.34,620.23 207.05,620.83 207.76,619.95 208.46,620.35 209.17,621.29 209.88,620.21 210.59,619.94 211.30,619.96 212.01,620.96 212.72,620.16 213.43,619.49 214.13,620.28 214.84,619.58 215.55,619.47 216.26,620.40 216.97,619.88 217.68,620.53 218.39,619.55 219.09,620.35 219.80,620.65 220.51,620.26 221.22,620.27 221.93,619.92 222.64,619.84 223.35,620.98 224.06,620.59 224.76,619.85 225.47,619.74 226.18,620.00 226.89,618.16 227.60,619.21 228.31,620.05 229.02,619.45 229.73,618.99 230.43,619.66 231.14,621.15 231.85,619.81 232.56,619.82 233.27,618.31 233.98,621.14 234.69,618.69 235.39,619.89 236.10,619.09 236.81,619.95 237.52,619.59 238.23,618.88 238.94,619.61 239.65,618.89 240.36,619.69 241.06,619.91 241.77,619.75 242.48,619.93 243.19,619.64 243.90,618.54 244.61,620.36 245.32,620.69 246.03,619.48 246.73,618.22 247.44,618.67 248.15,618.44 248.86,618.48 249.57,619.89 250.28,619.26 250.99,621.26 251.69,619.75 252.40,618.84 253.11,620.40 253.82,620.74 254.53,620.17 255.24,618.30 255.95,616.35 256.66,613.98 257.36,613.65 258.07,614.88 258.78,614.40 259.49,611.04 260.20,609.98 260.91,612.15 261.62,610.93 262.33,610.64 263.03,610.07 263.74,610.26 264.45,609.63 265.16,609.14 265.87,610.03 266.58,609.41 267.29,608.28 268.00,611.02 268.70,611.04 269.41,609.62 270.12,608.40 270.83,609.95 271.54,609.23 272.25,610.61 272.96,609.62 273.66,611.12 274.37,610.07 275.08,610.50 275.79,611.15 276.50,610.96 277.21,611.89 277.92,613.96 278.63,613.37 279.33,616.14 280.04,614.61 280.75,613.87 281.46,616.06 282.17,616.51 282.88,617.29 283.59,617.14 284.30,618.54 285.00,618.02 285.71,618.88 286.42,619.16 287.13,618.92 287.84,619.22 288.55,620.60 289.26,618.00 289.96,619.57 290.67,621.05 291.38,619.20 292.09,620.14 292.80,620.11 293.51,619.90 294.22,621.17 294.93,622.74 295.63,620.89 296.34,620.80 297.05,620.41 297.76,621.76 298.47,621.42 299.18,620.96 299.89,621.46 300.60,621.42 301.30,621.07 302.01,621.94 302.72,620.14 303.43,621.90 304.14,621.23 304.85,621.49 305.56,621.75 306.26,620.89 306.97,620.56 307.68,620.25 308.39,620.86 309.10,621.58 309.81,620.67 310.52,622.29 311.23,621.24 311.93,620.92 312.64,620.89 313.35,622.09 314.06,622.34 314.77,620.13 315.48,621.65 316.19,622.45 316.90,622.17 317.60,621.30 318.31,620.49 319.02,621.32 319.73,620.48 320.44,621.16 321.15,620.99 321.86,620.64 322.56,621.59 323.27,621.13 323.98,621.61 324.69,621.78 325.40,620.88 326.11,621.92 326.82,621.29 327.53,621.90 328.23,621.42 328.94,621.73 329.65,620.60 330.36,621.31 331.07,621.31 331.78,620.22 332.49,623.40 333.20,622.16 333.90,623.30 334.61,621.39 335.32,621.09 336.03,620.95 336.74,621.21 337.45,622.01 338.16,620.18 338.87,621.20 339.57,621.60 340.28,622.20 340.99,621.13 341.70,621.77 342.41,621.74 343.12,621.29 343.83,621.28 344.53,622.01 345.24,620.56 345.95,622.14 346.66,622.23 347.37,621.23 348.08,621.36 348.79,621.41 349.50,621.74 350.20,621.43 350.91,621.86 351.62,622.62 352.33,620.95 353.04,622.18 353.75,621.63 354.46,620.96 355.17,621.46 355.87,619.56 356.58,622.46 357.29,622.01 358.00,621.42 358.71,620.54 359.42,621.66 360.13,622.49 360.83,620.70 361.54,622.14 362.25,621.64 362.96,620.89 363.67,621.97 364.38,621.82 365.09,621.17 365.80,621.65 366.50,621.31 367.21,622.18 367.92,621.60 368.63,622.28 369.34,622.61 370.05,620.30 370.76,621.21 371.47,620.89 372.17,622.21 372.88,621.55 373.59,621.68 374.30,622.53 375.01,621.16 375.72,622.04 376.43,621.68 377.13,622.60 377.84,620.85 378.55,621.02 379.26,621.27 379.97,622.18 380.68,621.93 381.39,620.70 382.10,621.75 382.80,621.37 383.51,621.46 384.22,622.34 384.93,620.49 385.64,622.94 386.35,621.40 387.06,621.62 387.77,622.69 388.47,621.33 389.18,621.20 389.89,621.52 390.60,622.14 391.31,621.24 392.02,620.78 392.73,621.40 393.43,620.35 394.14,620.95 394.85,621.02 395.56,620.58 396.27,622.01 396.98,621.91 397.69,621.18 398.40,621.18 399.10,620.48 399.81,620.73 400.52,621.40 401.23,621.36 401.94,621.70 402.65,621.75 403.36,621.80 404.07,620.83 404.77,621.78 405.48,621.68 406.19,621.29 406.90,621.73 407.61,621.50 408.32,622.82 409.03,620.98 409.74,621.39 410.44,620.96 411.15,620.72 411.86,622.13 412.57,618.95 413.28,620.22 413.99,619.75 414.70,620.33 415.40,617.17 416.11,614.64 416.82,610.94 417.53,605.34 418.24,601.85 418.95,604.93 419.66,609.47 420.37,611.91 421.07,615.65 421.78,617.91 422.49,617.37 423.20,619.58 423.91,620.25 424.62,620.24 425.33,620.92 426.04,620.65 426.74,620.82 427.45,621.49 428.16,621.29 428.87,620.96 429.58,620.96 430.29,620.87 431.00,620.77 431.70,621.18 432.41,621.02 433.12,621.68 433.83,621.61 434.54,620.73 435.25,622.86 435.96,621.24 436.67,619.30 437.37,622.82 438.08,620.49 438.79,622.78 439.50,621.32 440.21,620.45 440.92,620.56 441.63,622.24 442.34,622.53 443.04,622.63 443.75,621.14 444.46,621.92 445.17,621.65 445.88,621.48 446.59,621.39 447.30,621.31 448.00,621.60 448.71,622.81 449.42,620.68 450.13,623.62 450.84,620.84 451.55,622.14 452.26,621.86 452.97,622.09 453.67,621.99 454.38,621.75 455.09,621.93 455.80,622.51 456.51,621.15 457.22,622.15 457.93,620.81 458.64,621.86 459.34,622.25 460.05,621.46 460.76,621.15 461.47,622.41 462.18,621.97 462.89,620.78 463.60,622.48 464.30,622.38 465.01,621.67 465.72,622.64 466.43,623.51 467.14,622.96 467.85,621.53 468.56,621.34 469.27,621.39" fill="none" stroke="#b52127" stroke-width="2.1" stroke-linejoin="round" stroke-linecap="butt"/>
<line x1="182.36" y1="626.06" x2="189.36" y2="619.86" stroke="#000" stroke-width="2.5" stroke-linecap="round"/>
<line x1="198.00" y1="623.84" x2="205.00" y2="617.64" stroke="#000" stroke-width="2.5" stroke-linecap="round"/>
<rect x="59.6" y="542.0" width="410.30" height="95.40" fill="none" stroke="#000" stroke-width="2.5"/>
<g font-family='"Liberation Sans", Arial, Helvetica, sans-serif' font-size="16.5" fill="#000" stroke="#000" stroke-width="0.75"><text x="51.60" y="628.66" text-anchor="end">0</text><text x="477.40" y="628.66">0</text><text x="51.60" y="558.77" text-anchor="end">200</text><text x="477.40" y="558.77">20</text></g>
<line x1="183.5" y1="563.20" x2="219.5" y2="563.20" stroke="#b52127" stroke-width="2.1"/>
<text x="231.10" y="568.70" font-family='"Liberation Sans", Arial, Helvetica, sans-serif' font-size="16.5" fill="#000" stroke="#000" stroke-width="0.75">d<tspan font-style="italic" font-size="12" dy="3.6">hBN</tspan></text>
<text x="271.10" y="568.70" font-family='"Liberation Sans", Arial, Helvetica, sans-serif' font-size="16.5" fill="#000" stroke="#000" stroke-width="0.75">=</text>
<text x="286.60" y="568.70" font-family='"Liberation Sans", Arial, Helvetica, sans-serif' font-size="16.5" fill="#000" stroke="#000" stroke-width="0.75">65.5 nm</text>
<clipPath id="c4"><rect x="59.6" y="637.4" width="410.30" height="143.40"/></clipPath>
<g stroke="#000"><line x1="96.90" y1="637.40" x2="96.90" y2="643.70" stroke-width="1.5"/><line x1="96.90" y1="780.80" x2="96.90" y2="774.50" stroke-width="1.5"/><line x1="134.20" y1="637.40" x2="134.20" y2="647.90" stroke-width="2.3"/><line x1="134.20" y1="780.80" x2="134.20" y2="770.30" stroke-width="2.3"/><line x1="171.50" y1="637.40" x2="171.50" y2="643.70" stroke-width="1.5"/><line x1="171.50" y1="780.80" x2="171.50" y2="774.50" stroke-width="1.5"/><line x1="208.80" y1="637.40" x2="208.80" y2="647.90" stroke-width="2.3"/><line x1="208.80" y1="780.80" x2="208.80" y2="770.30" stroke-width="2.3"/><line x1="246.10" y1="637.40" x2="246.10" y2="643.70" stroke-width="1.5"/><line x1="246.10" y1="780.80" x2="246.10" y2="774.50" stroke-width="1.5"/><line x1="283.40" y1="637.40" x2="283.40" y2="647.90" stroke-width="2.3"/><line x1="283.40" y1="780.80" x2="283.40" y2="770.30" stroke-width="2.3"/><line x1="320.70" y1="637.40" x2="320.70" y2="643.70" stroke-width="1.5"/><line x1="320.70" y1="780.80" x2="320.70" y2="774.50" stroke-width="1.5"/><line x1="358.00" y1="637.40" x2="358.00" y2="647.90" stroke-width="2.3"/><line x1="358.00" y1="780.80" x2="358.00" y2="770.30" stroke-width="2.3"/><line x1="395.30" y1="637.40" x2="395.30" y2="643.70" stroke-width="1.5"/><line x1="395.30" y1="780.80" x2="395.30" y2="774.50" stroke-width="1.5"/><line x1="432.60" y1="637.40" x2="432.60" y2="647.90" stroke-width="2.3"/><line x1="432.60" y1="780.80" x2="432.60" y2="770.30" stroke-width="2.3"/><line x1="59.60" y1="766.09" x2="70.10" y2="766.09" stroke-width="2.3"/><line x1="469.90" y1="766.09" x2="459.40" y2="766.09" stroke-width="2.3"/><line x1="59.60" y1="729.32" x2="70.10" y2="729.32" stroke-width="2.3"/><line x1="469.90" y1="729.32" x2="459.40" y2="729.32" stroke-width="2.3"/><line x1="59.60" y1="692.55" x2="70.10" y2="692.55" stroke-width="2.3"/><line x1="469.90" y1="692.55" x2="459.40" y2="692.55" stroke-width="2.3"/><line x1="59.60" y1="655.78" x2="70.10" y2="655.78" stroke-width="2.3"/><line x1="469.90" y1="655.78" x2="459.40" y2="655.78" stroke-width="2.3"/><line x1="59.60" y1="747.71" x2="65.90" y2="747.71" stroke-width="1.5"/><line x1="469.90" y1="747.71" x2="463.60" y2="747.71" stroke-width="1.5"/><line x1="59.60" y1="710.94" x2="65.90" y2="710.94" stroke-width="1.5"/><line x1="469.90" y1="710.94" x2="463.60" y2="710.94" stroke-width="1.5"/><line x1="59.60" y1="674.17" x2="65.90" y2="674.17" stroke-width="1.5"/><line x1="469.90" y1="674.17" x2="463.60" y2="674.17" stroke-width="1.5"/></g>
<polyline clip-path="url(#c4)" points="59.82,766.37 60.53,766.60 61.24,766.32 61.95,766.25 62.66,766.53 63.37,766.28 64.08,766.48 64.78,766.39 65.49,766.37 66.20,766.64 66.91,766.20 67.62,766.54 68.33,766.43 69.04,766.49 69.75,766.35 70.45,766.35 71.16,766.41 71.87,766.20 72.58,766.37 73.29,766.46 74.00,766.83 74.71,766.44 75.42,766.44 76.12,766.52 76.83,766.52 77.54,766.30 78.25,766.23 78.96,766.10 79.67,766.20 80.38,766.47 81.08,766.32 81.79,766.55 82.50,766.23 83.21,766.27 83.92,766.40 84.63,766.31 85.34,766.32 86.05,766.36 86.75,766.05 87.46,765.76 88.17,766.07 88.88,766.00 89.59,766.09 90.30,766.12 91.01,765.69 91.72,766.00 92.42,765.80 93.13,765.76 93.84,765.52 94.55,765.43 95.26,765.09 95.97,765.02 96.68,764.36 97.38,763.40 98.09,762.56 98.80,760.17 99.51,753.06 100.22,731.14 100.93,684.29 101.64,649.55 102.35,664.69 103.05,696.54 103.76,725.24 104.47,743.82 105.18,753.74 105.89,758.87 106.60,761.11 107.31,762.33 108.02,763.12 108.72,763.92 109.43,763.86 110.14,764.46 110.85,764.89 111.56,765.14 112.27,764.90 112.98,765.07 113.69,765.60 114.39,765.59 115.10,765.54 115.81,765.98 116.52,765.96 117.23,765.74 117.94,766.09 118.65,766.10 119.35,766.27 120.06,766.22 120.77,766.04 121.48,766.29 122.19,766.39 122.90,766.31 123.61,765.98 124.32,766.24 125.02,766.36 125.73,766.28 126.44,766.25 127.15,766.31 127.86,766.61 128.57,766.31 129.28,766.40 129.99,766.25 130.69,766.59 131.40,766.24 132.11,766.48 132.82,766.67 133.53,766.22 134.24,766.50 134.95,766.38 135.65,766.47 136.36,766.29 137.07,766.29 137.78,766.29 138.49,766.36 139.20,766.71 139.91,766.72 140.62,766.45 141.32,766.63 142.03,766.42 142.74,766.47 143.45,766.71 144.16,766.65 144.87,766.67 145.58,766.64 146.29,766.54 146.99,766.41 147.70,766.32 148.41,766.67 149.12,766.61 149.83,766.30 150.54,766.40 151.25,766.50 151.95,766.88 152.66,766.69 153.37,766.52 154.08,766.63 154.79,766.25 155.50,766.54 156.21,766.51 156.92,766.72 157.62,766.71 158.33,766.66 159.04,766.65 159.75,766.60 160.46,766.51 161.17,766.53 161.88,766.42 162.59,766.77 163.29,766.54 164.00,766.54 164.71,766.34 165.42,766.61 166.13,766.53 166.84,766.70 167.55,766.52 168.25,766.53 168.96,766.68 169.67,766.65 170.38,766.60 171.09,766.51 171.80,766.76 172.51,766.46 173.22,766.65 173.92,766.32 174.63,766.38 175.34,766.66 176.05,766.70 176.76,766.24 177.47,766.51 178.18,766.52 178.89,766.67 179.59,766.63 180.30,766.49 181.01,766.52 181.72,766.74 182.43,766.43 183.14,766.57 183.85,766.76 184.55,766.47 185.26,766.65" fill="none" stroke="#7d58a0" stroke-width="2.1" stroke-linejoin="round" stroke-linecap="butt"/>
<polyline clip-path="url(#c4)" points="201.90,761.18 202.61,762.02 203.32,761.44 204.03,762.69 204.73,761.42 205.44,762.61 206.15,761.54 206.86,763.24 207.57,761.67 208.28,761.17 208.99,761.32 209.70,760.86 210.40,762.29 211.11,760.62 211.82,760.59 212.53,762.35 213.24,762.09 213.95,761.95 214.66,761.59 215.36,761.46 216.07,763.13 216.78,761.19 217.49,761.72 218.20,762.20 218.91,760.95 219.62,761.76 220.33,760.82 221.03,761.20 221.74,761.73 222.45,760.78 223.16,761.01 223.87,761.83 224.58,762.52 225.29,761.85 226.00,761.11 226.70,761.64 227.41,760.37 228.12,761.31 228.83,761.35 229.54,761.21 230.25,762.02 230.96,761.54 231.66,761.87 232.37,762.93 233.08,762.57 233.79,760.97 234.50,761.71 235.21,761.50 235.92,762.35 236.63,761.79 237.33,760.92 238.04,761.34 238.75,761.73 239.46,760.43 240.17,761.43 240.88,761.60 241.59,760.65 242.30,762.47 243.00,761.02 243.71,762.07 244.42,761.86 245.13,761.78 245.84,761.26 246.55,761.27 247.26,761.14 247.96,761.20 248.67,760.44 249.38,760.25 250.09,760.87 250.80,758.84 251.51,759.27 252.22,762.00 252.93,760.76 253.63,760.94 254.34,758.89 255.05,758.25 255.76,751.51 256.47,750.52 257.18,745.88 257.89,741.45 258.60,739.55 259.30,735.20 260.01,735.04 260.72,733.05 261.43,728.66 262.14,728.96 262.85,731.61 263.56,733.14 264.27,732.69 264.97,733.41 265.68,735.35 266.39,735.95 267.10,735.36 267.81,734.88 268.52,732.85 269.23,733.20 269.93,733.21 270.64,732.67 271.35,731.58 272.06,731.89 272.77,730.93 273.48,731.47 274.19,730.60 274.90,731.02 275.60,733.38 276.31,734.19 277.02,736.00 277.73,739.90 278.44,741.95 279.15,745.31 279.86,748.13 280.57,751.59 281.27,752.89 281.98,753.96 282.69,756.51 283.40,757.35 284.11,758.10 284.82,756.63 285.53,757.83 286.23,758.08 286.94,758.51 287.65,759.26 288.36,759.70 289.07,758.97 289.78,760.05 290.49,759.10 291.20,760.34 291.90,760.78 292.61,761.34 293.32,761.62 294.03,761.93 294.74,761.37 295.45,761.23 296.16,763.79 296.87,763.28 297.57,763.37 298.28,764.45 298.99,764.29 299.70,764.18 300.41,765.41 301.12,763.50 301.83,763.94 302.53,763.98 303.24,763.87 303.95,763.77 304.66,762.48 305.37,763.83 306.08,763.42 306.79,764.28 307.50,763.74 308.20,764.16 308.91,764.06 309.62,764.54 310.33,764.49 311.04,763.70 311.75,763.52 312.46,763.71 313.17,764.42 313.87,763.81 314.58,765.61 315.29,763.43 316.00,764.05 316.71,763.86 317.42,763.31 318.13,764.31 318.83,763.45 319.54,764.33 320.25,763.72 320.96,764.32 321.67,763.88 322.38,763.17 323.09,764.49 323.80,764.47 324.50,764.30 325.21,763.91 325.92,762.38 326.63,764.47 327.34,765.39 328.05,764.53 328.76,765.12 329.47,764.48 330.17,764.13 330.88,764.74 331.59,764.57 332.30,765.32 333.01,764.04 333.72,764.63 334.43,763.49 335.14,763.52 335.84,764.73 336.55,764.42 337.26,764.16 337.97,763.72 338.68,765.25 339.39,764.25 340.10,763.05 340.80,764.27 341.51,764.08 342.22,764.23 342.93,764.98 343.64,763.64 344.35,764.08 345.06,764.15 345.77,763.80 346.47,763.77 347.18,765.45 347.89,763.97 348.60,764.64 349.31,764.18 350.02,764.74 350.73,764.84 351.44,763.70 352.14,764.31 352.85,764.49 353.56,764.49 354.27,764.27 354.98,764.33 355.69,765.81 356.40,764.88 357.10,764.49 357.81,763.88 358.52,763.49 359.23,764.94 359.94,763.14 360.65,764.30 361.36,764.06 362.07,764.70 362.77,764.75 363.48,763.48 364.19,764.52 364.90,764.45 365.61,763.66 366.32,763.32 367.03,765.34 367.74,764.52 368.44,764.41 369.15,763.28 369.86,762.87 370.57,764.45 371.28,764.19 371.99,763.89 372.70,763.71 373.40,764.64 374.11,763.90 374.82,764.88 375.53,766.12 376.24,765.31 376.95,764.32 377.66,763.97 378.37,765.88 379.07,765.59 379.78,764.49 380.49,766.59 381.20,764.12 381.91,763.83 382.62,766.34 383.33,764.00 384.04,764.60 384.74,763.59 385.45,764.31 386.16,764.63 386.87,764.41 387.58,763.90 388.29,764.37 389.00,764.46 389.70,765.39 390.41,764.19 391.12,764.47 391.83,763.33 392.54,764.49 393.25,764.54 393.96,764.87 394.67,764.02 395.37,764.60 396.08,764.91 396.79,763.46 397.50,763.34 398.21,764.73 398.92,765.08 399.63,763.72 400.34,764.93 401.04,762.62 401.75,764.46 402.46,763.75 403.17,765.14 403.88,764.32 404.59,763.57 405.30,763.94 406.01,764.50 406.71,762.55 407.42,763.55 408.13,764.06 408.84,764.18 409.55,763.82 410.26,762.60 410.97,763.68 411.67,762.84 412.38,762.91 413.09,760.94 413.80,760.79 414.51,758.32 415.22,755.09 415.93,749.63 416.64,738.99 417.34,726.87 418.05,721.78 418.76,725.16 419.47,732.98 420.18,744.70 420.89,751.05 421.60,756.84 422.31,758.47 423.01,760.78 423.72,760.96 424.43,762.16 425.14,763.37 425.85,762.31 426.56,763.43 427.27,764.16 427.97,763.67 428.68,764.47 429.39,763.74 430.10,764.14 430.81,764.43 431.52,763.85 432.23,765.15 432.94,763.79 433.64,765.72 434.35,763.49 435.06,764.43 435.77,764.75 436.48,765.08 437.19,764.30 437.90,764.78 438.61,764.82 439.31,764.08 440.02,765.03 440.73,764.92 441.44,764.52 442.15,764.14 442.86,764.93 443.57,764.75 444.27,764.83 444.98,764.41 445.69,763.95 446.40,765.50 447.11,765.00 447.82,764.96 448.53,764.57 449.24,764.01 449.94,764.98 450.65,764.85 451.36,764.28 452.07,765.79 452.78,765.50 453.49,765.31 454.20,765.04 454.91,764.90 455.61,765.38 456.32,763.95 457.03,765.52 457.74,765.21 458.45,764.40 459.16,764.61 459.87,765.11 460.57,764.88 461.28,764.60 461.99,765.14 462.70,764.73 463.41,765.73 464.12,765.11 464.83,766.20 465.54,765.74 466.24,765.91 466.95,764.40 467.66,765.49 468.37,765.02 469.08,765.80 469.79,765.35" fill="none" stroke="#7d58a0" stroke-width="2.1" stroke-linejoin="round" stroke-linecap="butt"/>
<line x1="182.36" y1="769.71" x2="189.36" y2="763.51" stroke="#000" stroke-width="2.5" stroke-linecap="round"/>
<line x1="198.00" y1="764.93" x2="205.00" y2="758.73" stroke="#000" stroke-width="2.5" stroke-linecap="round"/>
<rect x="59.6" y="637.4" width="410.30" height="143.40" fill="none" stroke="#000" stroke-width="2.5"/>
<g font-family='"Liberation Sans", Arial, Helvetica, sans-serif' font-size="16.5" fill="#000" stroke="#000" stroke-width="0.75"><text x="51.60" y="772.03" text-anchor="end">0</text><text x="477.40" y="772.03">0</text><text x="51.60" y="735.26" text-anchor="end">100</text><text x="477.40" y="735.26">10</text><text x="51.60" y="698.49" text-anchor="end">200</text><text x="477.40" y="698.49">20</text><text x="51.60" y="661.72" text-anchor="end">300</text><text x="477.40" y="661.72">30</text></g>
<line x1="183.5" y1="658.60" x2="219.5" y2="658.60" stroke="#7d58a0" stroke-width="2.1"/>
<text x="231.10" y="664.10" font-family='"Liberation Sans", Arial, Helvetica, sans-serif' font-size="16.5" fill="#000" stroke="#000" stroke-width="0.75">d<tspan font-style="italic" font-size="12" dy="3.6">hBN</tspan></text>
<text x="271.10" y="664.10" font-family='"Liberation Sans", Arial, Helvetica, sans-serif' font-size="16.5" fill="#000" stroke="#000" stroke-width="0.75">=</text>
<text x="286.60" y="664.10" font-family='"Liberation Sans", Arial, Helvetica, sans-serif' font-size="16.5" fill="#000" stroke="#000" stroke-width="0.75">19.0 nm</text>
<g font-family='"Liberation Sans", Arial, Helvetica, sans-serif' font-size="16.5" fill="#000" stroke="#000" stroke-width="0.75"><text x="59.60" y="801.2" text-anchor="middle">400</text><text x="134.20" y="801.2" text-anchor="middle">600</text><text x="208.80" y="801.2" text-anchor="middle">800</text><text x="283.40" y="801.2" text-anchor="middle">1000</text><text x="358.00" y="801.2" text-anchor="middle">1200</text><text x="432.60" y="801.2" text-anchor="middle">1400</text></g>
<text x="194.4" y="826.3" font-family='"Liberation Sans", Arial, Helvetica, sans-serif' font-size="16.5" fill="#000" stroke="#000" stroke-width="0.75">Ramanshift (cm</text>
<text x="311.9" y="820.6" font-family='DejaVu Sans' font-size="11" fill="#000" stroke="#000" stroke-width="0.75">−1</text>
<text x="330.0" y="826.3" font-family='"Liberation Sans", Arial, Helvetica, sans-serif' font-size="16.5" fill="#000" stroke="#000" stroke-width="0.75">)</text>
<text transform="translate(13.2,480.30) rotate(-90)" text-anchor="middle" font-family='"Liberation Sans", Arial, Helvetica, sans-serif' font-size="16.7" fill="#000" stroke="#000" stroke-width="0.75">Intensity (cps)</text>
<text transform="translate(517.4,480.30) rotate(-90)" text-anchor="middle" font-family='"Liberation Sans", Arial, Helvetica, sans-serif' font-size="16.7" fill="#000" stroke="#000" stroke-width="0.75">Intensity (cps)</text>
</svg>
</body></html>
